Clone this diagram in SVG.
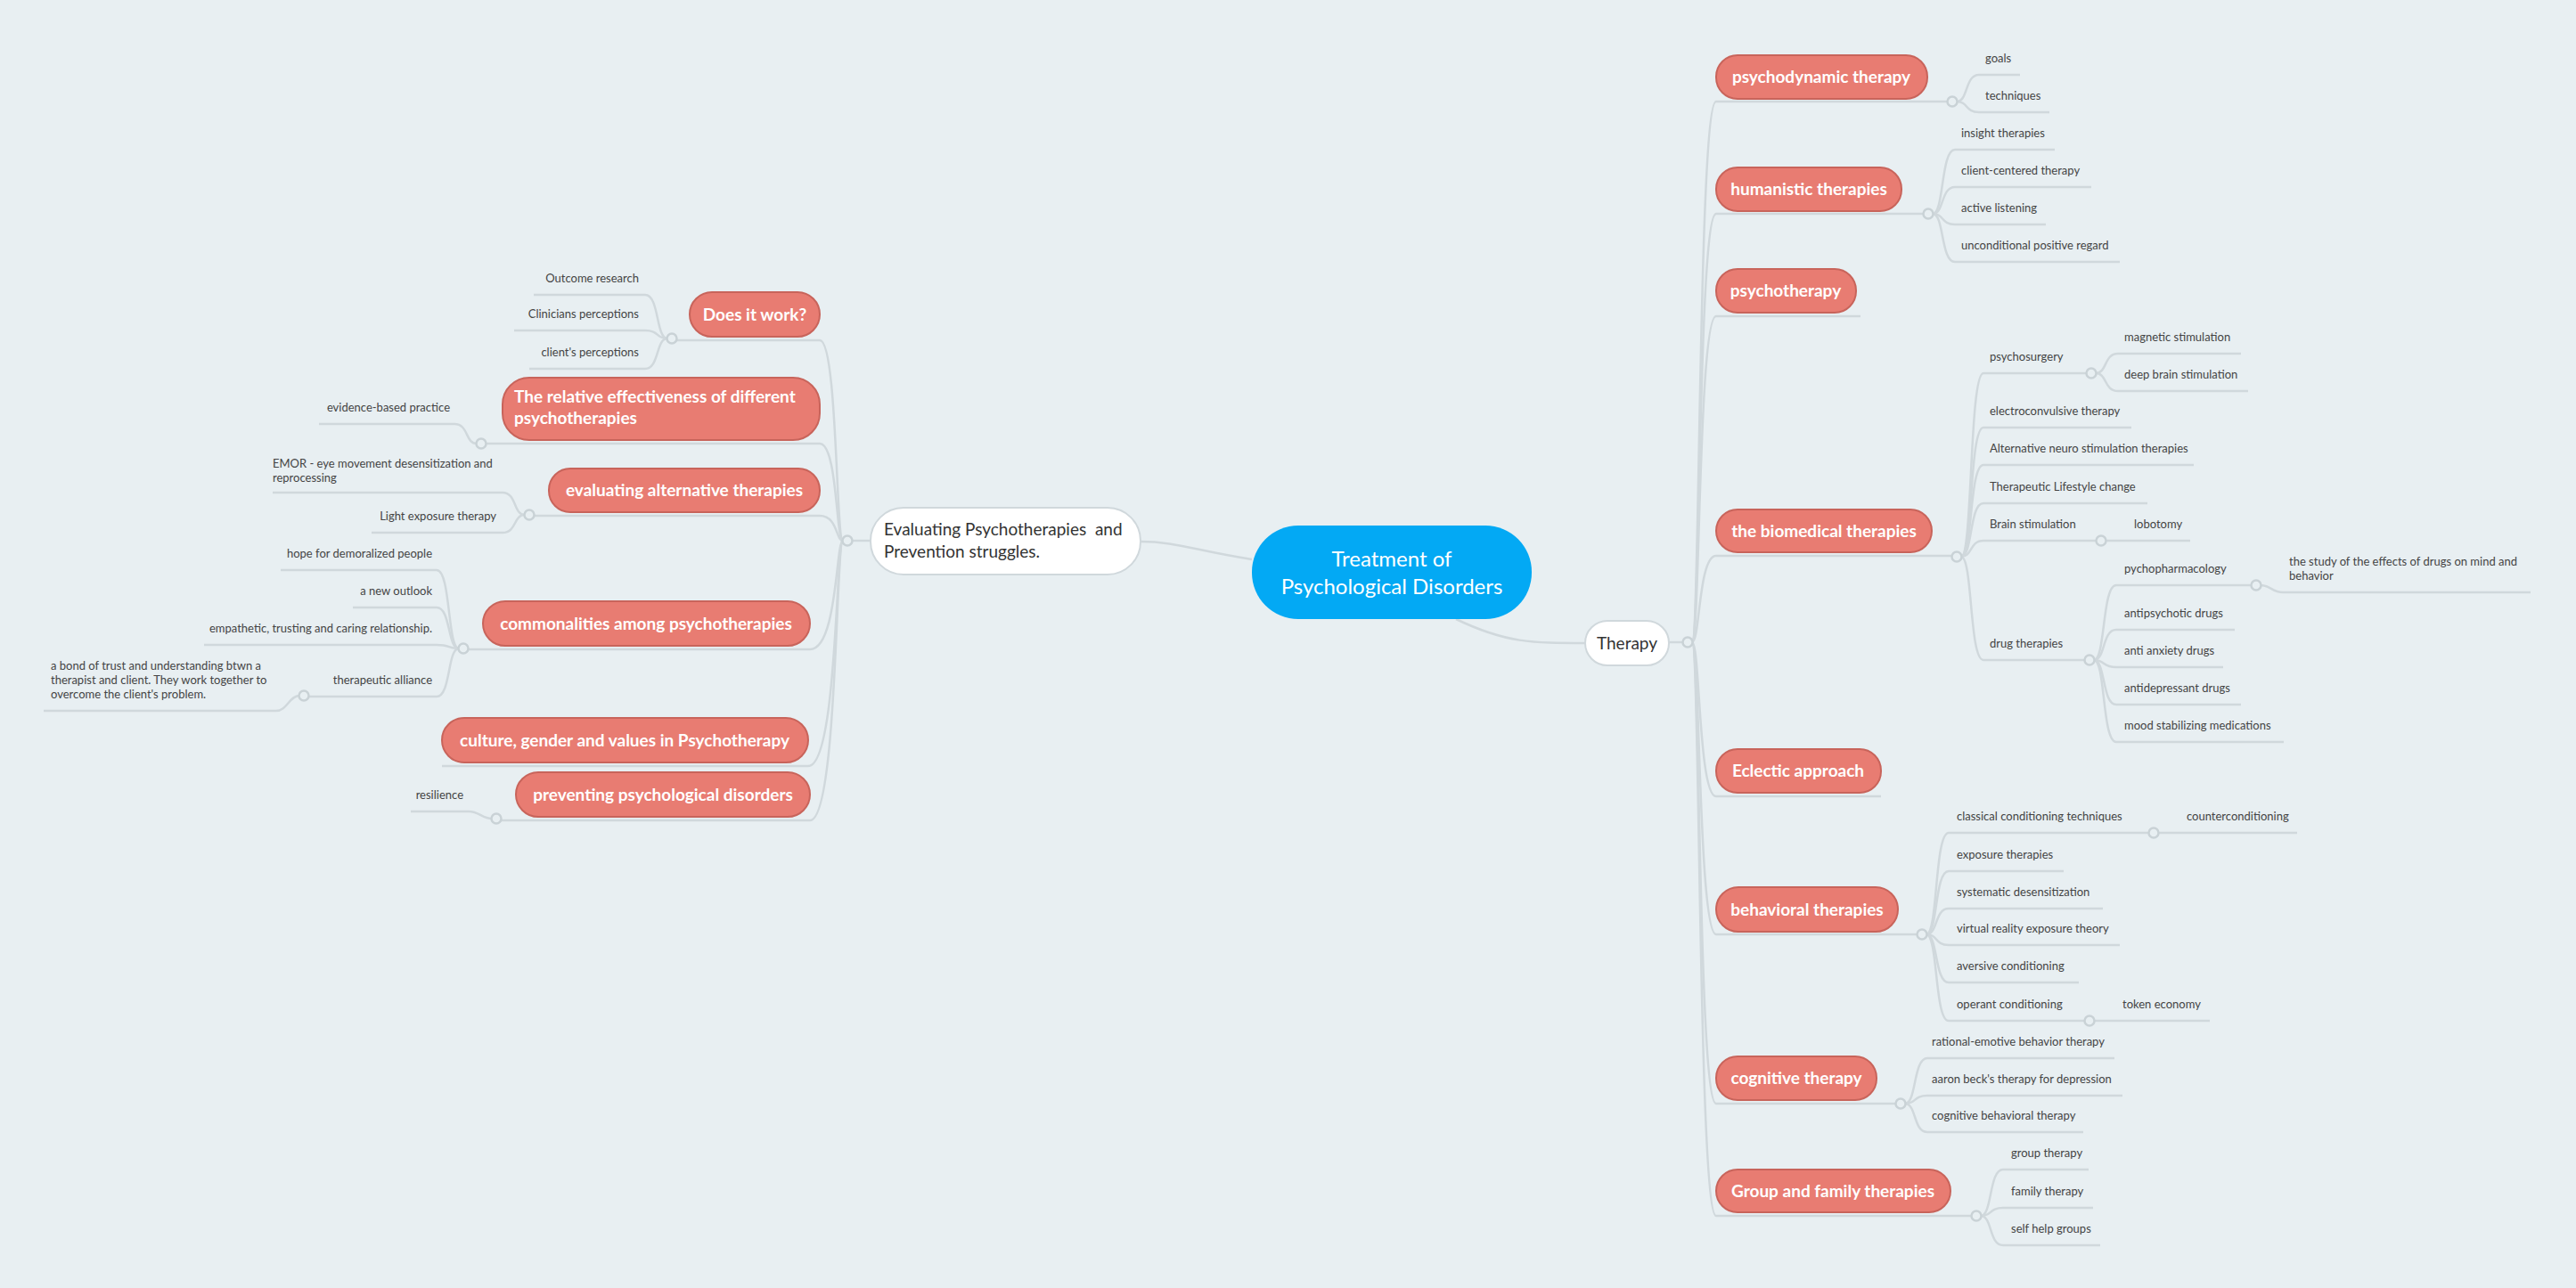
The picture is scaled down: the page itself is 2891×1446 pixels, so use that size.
<svg xmlns="http://www.w3.org/2000/svg" width="2891" height="1446" viewBox="0 0 2891 1446">
<style>
.l{fill:none;stroke:#d0d8dc;stroke-width:2.5}
.j{fill:#e8eff2;stroke:#c9d2d6;stroke-width:2.5}
.t{fill:#e87c72;stroke:#c8645b;stroke-width:2}
.tt{font-family:Lato,"Open Sans",sans-serif;font-weight:bold;font-size:19px;fill:#fff}
.k{font-family:Lato,"Open Sans",sans-serif;font-size:13px;fill:#444}
.r{text-anchor:end}
</style>
<rect width="2891" height="1446" fill="#e8eff2"/>
<g id="connectors">
<path class="l" d="M1405,628 C1340,618 1320,608 1280,608"/>
<path class="l" d="M1634,695 C1690,722 1720,722 1779,722"/>
<path class="l" d="M1873,721 L1889,721"/>
<path class="l" d="M977,607 L956,607"/>
<path class="l" d="M1899,721 C1908,721 1906,114 1926,114 L2186,114"/>
<path class="l" d="M1899,721 C1908,721 1906,240 1926,240 L2159,240"/>
<path class="l" d="M1899,721 C1908,721 1906,355 1926,355 L2088,355"/>
<path class="l" d="M1899,721 C1908,721 1906,624 1926,624 L2191,624"/>
<path class="l" d="M1899,721 C1908,721 1906,894 1926,894 L2111,894"/>
<path class="l" d="M1899,721 C1908,721 1906,1049 1926,1049 L2152,1049"/>
<path class="l" d="M1899,721 C1908,721 1906,1239 1926,1239 L2128,1239"/>
<path class="l" d="M1899,721 C1908,721 1906,1365 1926,1365 L2213,1365"/>
<path class="l" d="M2196,114 C2209,114 2205,84 2221,84 L2267,84"/>
<path class="l" d="M2196,114 C2209,114 2205,126 2221,126 L2300,126"/>
<path class="l" d="M2169,240 C2182,240 2178,168 2194,168 L2306,168"/>
<path class="l" d="M2169,240 C2182,240 2178,210 2194,210 L2347,210"/>
<path class="l" d="M2169,240 C2182,240 2178,252 2194,252 L2296,252"/>
<path class="l" d="M2169,240 C2182,240 2178,294 2194,294 L2379,294"/>
<path class="l" d="M2201,625 C2214,625 2210,419 2226,419 L2342,419"/>
<path class="l" d="M2201,625 C2214,625 2210,480 2226,480 L2392,480"/>
<path class="l" d="M2201,625 C2214,625 2210,522 2226,522 L2462,522"/>
<path class="l" d="M2201,625 C2214,625 2210,565 2226,565 L2410,565"/>
<path class="l" d="M2201,625 C2214,625 2210,607 2226,607 L2353,607"/>
<path class="l" d="M2201,625 C2214,625 2210,741 2226,741 L2340,741"/>
<path class="l" d="M2352,419 C2365,419 2361,397 2377,397 L2515,397"/>
<path class="l" d="M2352,419 C2365,419 2361,439 2377,439 L2523,439"/>
<path class="l" d="M2363,607 L2458,607"/>
<path class="l" d="M2350,741 C2363,741 2359,657 2375,657 L2527,657"/>
<path class="l" d="M2350,741 C2363,741 2359,707 2375,707 L2508,707"/>
<path class="l" d="M2350,741 C2363,741 2359,749 2375,749 L2495,749"/>
<path class="l" d="M2350,741 C2363,741 2359,791 2375,791 L2515,791"/>
<path class="l" d="M2350,741 C2363,741 2359,833 2375,833 L2563,833"/>
<path class="l" d="M2537,657 C2548,657 2550,665 2562,665 L2840,665"/>
<path class="l" d="M2162,1049 C2175,1049 2171,935 2187,935 L2412,935"/>
<path class="l" d="M2162,1049 C2175,1049 2171,978 2187,978 L2316,978"/>
<path class="l" d="M2162,1049 C2175,1049 2171,1020 2187,1020 L2360,1020"/>
<path class="l" d="M2162,1049 C2175,1049 2171,1061 2187,1061 L2379,1061"/>
<path class="l" d="M2162,1049 C2175,1049 2171,1103 2187,1103 L2333,1103"/>
<path class="l" d="M2162,1049 C2175,1049 2171,1146 2187,1146 L2340,1146"/>
<path class="l" d="M2422,935 L2578,935"/>
<path class="l" d="M2350,1146 L2480,1146"/>
<path class="l" d="M2138,1239 C2151,1239 2147,1188 2163,1188 L2373,1188"/>
<path class="l" d="M2138,1239 C2151,1239 2147,1230 2163,1230 L2382,1230"/>
<path class="l" d="M2138,1239 C2151,1239 2147,1271 2163,1271 L2338,1271"/>
<path class="l" d="M2223,1365 C2236,1365 2232,1313 2248,1313 L2344,1313"/>
<path class="l" d="M2223,1365 C2236,1365 2232,1356 2248,1356 L2349,1356"/>
<path class="l" d="M2223,1365 C2236,1365 2232,1398 2248,1398 L2357,1398"/>
<path class="l" d="M946,607 C938,607 940,382 920,382 L759,382"/>
<path class="l" d="M946,607 C938,607 940,498 920,498 L545,498"/>
<path class="l" d="M946,607 C938,607 940,579 920,579 L599,579"/>
<path class="l" d="M946,607 C938,607 940,729 909,729 L525,729"/>
<path class="l" d="M946,607 C938,607 940,860 907,860 L496,860"/>
<path class="l" d="M946,607 C938,607 940,921 909,921 L562,921"/>
<path class="l" d="M749,380 C736,380 740,331 724,331 L599,331"/>
<path class="l" d="M749,380 C736,380 740,371 724,371 L577,371"/>
<path class="l" d="M749,380 C736,380 740,414 724,414 L594,414"/>
<path class="l" d="M535,498 C522,498 526,476 510,476 L358,476"/>
<path class="l" d="M589,578 C576,578 580,553 564,553 L306,553"/>
<path class="l" d="M589,578 C576,578 580,598 564,598 L417,598"/>
<path class="l" d="M515,728 C502,728 506,640 490,640 L315,640"/>
<path class="l" d="M515,728 C502,728 506,682 490,682 L396,682"/>
<path class="l" d="M515,728 C502,728 506,724 490,724 L229,724"/>
<path class="l" d="M515,728 C502,728 506,782 490,782 L346,782"/>
<path class="l" d="M336,781 C325,781 322,798 310,798 L49,798"/>
<path class="l" d="M552,919 C541,919 538,911 526,911 L461,911"/>
</g>
<g id="junctions">
<circle class="j" cx="1894" cy="721" r="5.5"/>
<circle class="j" cx="951" cy="607" r="5.5"/>
<circle class="j" cx="2191" cy="114" r="5.5"/>
<circle class="j" cx="2164" cy="240" r="5.5"/>
<circle class="j" cx="2196" cy="625" r="5.5"/>
<circle class="j" cx="2347" cy="419" r="5.5"/>
<circle class="j" cx="2358" cy="607" r="5.5"/>
<circle class="j" cx="2345" cy="741" r="5.5"/>
<circle class="j" cx="2532" cy="657" r="5.5"/>
<circle class="j" cx="2157" cy="1049" r="5.5"/>
<circle class="j" cx="2417" cy="935" r="5.5"/>
<circle class="j" cx="2345" cy="1146" r="5.5"/>
<circle class="j" cx="2133" cy="1239" r="5.5"/>
<circle class="j" cx="2218" cy="1365" r="5.5"/>
<circle class="j" cx="754" cy="380" r="5.5"/>
<circle class="j" cx="540" cy="498" r="5.5"/>
<circle class="j" cx="594" cy="578" r="5.5"/>
<circle class="j" cx="520" cy="728" r="5.5"/>
<circle class="j" cx="341" cy="781" r="5.5"/>
<circle class="j" cx="557" cy="919" r="5.5"/>
</g>
<g id="root"><rect x="1405" y="590" width="314" height="105" rx="52" fill="#03a9f4"/>
<text x="1562" y="636" text-anchor="middle" font-family="Lato,'Open Sans',sans-serif" font-size="24" fill="#fff">Treatment of</text>
<text x="1562" y="667" text-anchor="middle" font-family="Lato,'Open Sans',sans-serif" font-size="24" fill="#fff">Psychological Disorders</text></g>
<g id="therapy"><rect x="1779" y="697" width="94" height="50" rx="25" fill="#fff" stroke="#d0d8dc" stroke-width="2"/>
<text x="1826" y="729" text-anchor="middle" font-family="Lato,'Open Sans',sans-serif" font-size="19" fill="#333">Therapy</text></g>
<g id="evaluating"><rect x="977" y="570" width="303" height="75" rx="37" fill="#fff" stroke="#d0d8dc" stroke-width="2"/>
<text font-family="Lato,'Open Sans',sans-serif" font-size="19" fill="#333" xml:space="preserve"><tspan x="992" y="601">Evaluating Psychotherapies  and</tspan><tspan x="992" y="626">Prevention struggles.</tspan></text></g>
<g id="t1"><rect class="t" x="1926" y="62" width="237" height="49" rx="24"/><text class="tt" x="2044" y="93" text-anchor="middle">psychodynamic therapy</text></g>
<g id="t2"><rect class="t" x="1926" y="188" width="208" height="49" rx="24"/><text class="tt" x="2030" y="219" text-anchor="middle">humanistic therapies</text></g>
<g id="t3"><rect class="t" x="1926" y="302" width="157" height="49" rx="24"/><text class="tt" x="2004" y="333" text-anchor="middle">psychotherapy</text></g>
<g id="t4"><rect class="t" x="1926" y="572" width="242" height="48" rx="24"/><text class="tt" x="2047" y="603" text-anchor="middle">the biomedical therapies</text></g>
<g id="t5"><rect class="t" x="1926" y="841" width="185" height="49" rx="24"/><text class="tt" x="2018" y="872" text-anchor="middle">Eclectic approach</text></g>
<g id="t6"><rect class="t" x="1926" y="996" width="204" height="50" rx="25"/><text class="tt" x="2028" y="1028" text-anchor="middle">behavioral therapies</text></g>
<g id="t7"><rect class="t" x="1926" y="1186" width="180" height="49" rx="24"/><text class="tt" x="2016" y="1217" text-anchor="middle">cognitive therapy</text></g>
<g id="t8"><rect class="t" x="1926" y="1313" width="263" height="48" rx="24"/><text class="tt" x="2057" y="1344" text-anchor="middle">Group and family therapies</text></g>
<g id="t9"><rect class="t" x="774" y="328" width="146" height="50" rx="25"/><text class="tt" x="847" y="360" text-anchor="middle">Does it work?</text></g>
<g id="t10"><rect class="t" x="564" y="424" width="356" height="70" rx="30"/><text class="tt"><tspan x="577" y="452">The relative effectiveness of different</tspan><tspan x="577" y="476">psychotherapies</tspan></text></g>
<g id="t11"><rect class="t" x="616" y="526" width="304" height="49" rx="24"/><text class="tt" x="768" y="557" text-anchor="middle">evaluating alternative therapies</text></g>
<g id="t12"><rect class="t" x="542" y="675" width="367" height="50" rx="25"/><text class="tt" x="725" y="707" text-anchor="middle">commonalities among psychotherapies</text></g>
<g id="t13"><rect class="t" x="496" y="806" width="411" height="50" rx="25"/><text class="tt" x="701" y="838" text-anchor="middle">culture, gender and values in Psychotherapy</text></g>
<g id="t14"><rect class="t" x="579" y="867" width="330" height="50" rx="25"/><text class="tt" x="744" y="899" text-anchor="middle">preventing psychological disorders</text></g>
<g id="leaves">
<text class="k" x="2228" y="70">goals</text>
<text class="k" x="2228" y="112">techniques</text>
<text class="k" x="2201" y="154">insight therapies</text>
<text class="k" x="2201" y="196">client-centered therapy</text>
<text class="k" x="2201" y="238">active listening</text>
<text class="k" x="2201" y="280">unconditional positive regard</text>
<text class="k" x="2233" y="405">psychosurgery</text>
<text class="k" x="2384" y="383">magnetic stimulation</text>
<text class="k" x="2384" y="425">deep brain stimulation</text>
<text class="k" x="2233" y="466">electroconvulsive therapy</text>
<text class="k" x="2233" y="508">Alternative neuro stimulation therapies</text>
<text class="k" x="2233" y="551">Therapeutic Lifestyle change</text>
<text class="k" x="2233" y="593">Brain stimulation</text>
<text class="k" x="2395" y="593">lobotomy</text>
<text class="k" x="2233" y="727">drug therapies</text>
<text class="k" x="2384" y="643">pychopharmacology</text>
<text class="k"><tspan x="2569" y="635">the study of the effects of drugs on mind and</tspan><tspan x="2569" y="651">behavior</tspan></text>
<text class="k" x="2384" y="693">antipsychotic drugs</text>
<text class="k" x="2384" y="735">anti anxiety drugs</text>
<text class="k" x="2384" y="777">antidepressant drugs</text>
<text class="k" x="2384" y="819">mood stabilizing medications</text>
<text class="k" x="2196" y="921">classical conditioning techniques</text>
<text class="k" x="2454" y="921">counterconditioning</text>
<text class="k" x="2196" y="964">exposure therapies</text>
<text class="k" x="2196" y="1006">systematic desensitization</text>
<text class="k" x="2196" y="1047">virtual reality exposure theory</text>
<text class="k" x="2196" y="1089">aversive conditioning</text>
<text class="k" x="2196" y="1132">operant conditioning</text>
<text class="k" x="2382" y="1132">token economy</text>
<text class="k" x="2168" y="1174">rational-emotive behavior therapy</text>
<text class="k" x="2168" y="1216">aaron beck's therapy for depression</text>
<text class="k" x="2168" y="1257">cognitive behavioral therapy</text>
<text class="k" x="2257" y="1299">group therapy</text>
<text class="k" x="2257" y="1342">family therapy</text>
<text class="k" x="2257" y="1384">self help groups</text>
<text class="k r" x="717" y="317">Outcome research</text>
<text class="k r" x="717" y="357">Clinicians perceptions</text>
<text class="k r" x="717" y="400">client's perceptions</text>
<text class="k r" x="505" y="462">evidence-based practice</text>
<text class="k"><tspan x="306" y="525">EMOR - eye movement desensitization and</tspan><tspan x="306" y="541">reprocessing</tspan></text>
<text class="k r" x="557" y="584">Light exposure therapy</text>
<text class="k r" x="485" y="626">hope for demoralized people</text>
<text class="k r" x="485" y="668">a new outlook</text>
<text class="k r" x="485" y="710">empathetic, trusting and caring relationship.</text>
<text class="k r" x="485" y="768">therapeutic alliance</text>
<text class="k"><tspan x="57" y="752">a bond of trust and understanding btwn a</tspan><tspan x="57" y="768">therapist and client. They work together to</tspan><tspan x="57" y="784">overcome the client's problem.</tspan></text>
<text class="k r" x="520" y="897">resilience</text>
</g>
</svg>
